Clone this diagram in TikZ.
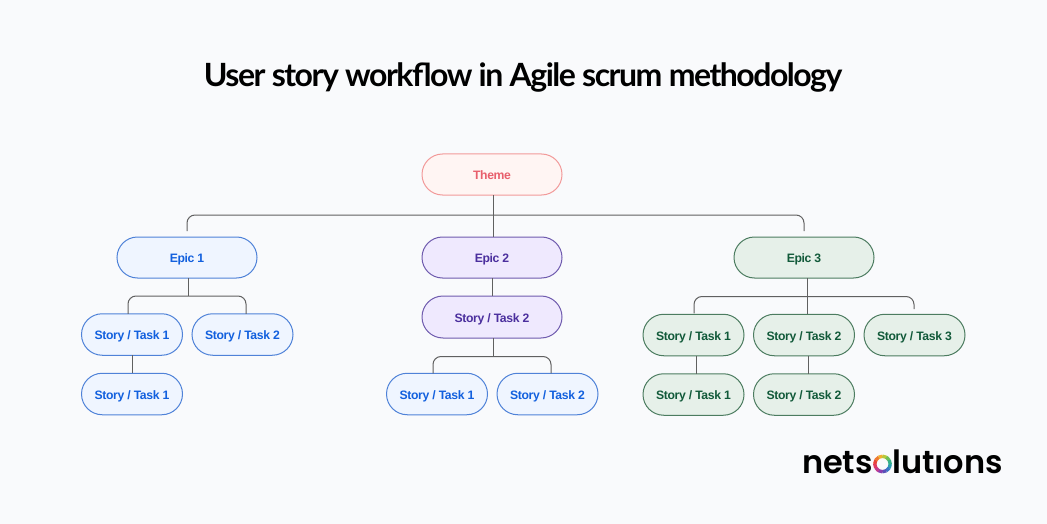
\documentclass[tikz,border=0pt]{standalone}
\usepackage{fontspec}
\usetikzlibrary{shapes.misc,calc}
\setmainfont{Liberation Sans}
\newfontfamily\pillfont[LetterSpace=-3]{Liberation Sans}
\newfontfamily\titlefont[LetterSpace=-4.7]{Lato}
\newfontfamily\logofont{Poppins SemiBold}
\definecolor{bgc}{HTML}{F9FAFC}
\definecolor{linec}{HTML}{606060}
\definecolor{redf}{HTML}{FFF5F3}\definecolor{reds}{HTML}{F29A9A}\definecolor{redt}{HTML}{E85F6C}
\definecolor{bluef}{HTML}{EFF5FF}\definecolor{blues}{HTML}{4F82D8}\definecolor{bluet}{HTML}{1260DE}
\definecolor{purf}{HTML}{EFE9FE}\definecolor{purs}{HTML}{6F5BAE}\definecolor{purt}{HTML}{4B2F9E}
\definecolor{grnf}{HTML}{E6F0E9}\definecolor{grns}{HTML}{4C7C60}\definecolor{grnt}{HTML}{125A3A}
\tikzset{
  x=1pt,y=-1pt,
  pill/.style={rounded rectangle,inner sep=0pt,outer sep=0pt,line width=1pt,text height=10pt,text depth=0pt,font=\pillfont\bfseries\fontsize{12.2}{14}\selectfont},
  wide/.style={pill,minimum width=140pt,minimum height=41pt},
  small/.style={pill,minimum width=101pt,minimum height=41.5pt},
  redp/.style={fill=redf,draw=reds,text=redt},
  bluep/.style={fill=bluef,draw=blues,text=bluet},
  purp/.style={fill=purf,draw=purs,text=purt},
  grnp/.style={fill=grnf,draw=grns,text=grnt},
  link/.style={draw=linec,line width=1pt,rounded corners=8pt},
  stem/.style={draw=linec,line width=1pt},
}
\begin{document}
\begin{tikzpicture}
\path[use as bounding box,fill=bgc] (0,0) rectangle (1047,524);
\node[anchor=base,inner sep=0pt,font=\titlefont\bfseries\fontsize{32}{36}\selectfont,text=black] (title) at (523,87) {User story workflow in Agile scrum methodology};

\node[wide,redp] (theme) at (492,174.5) {Theme};
\node[wide,bluep] (e1) at (187,257.5) {Epic 1};
\node[wide,purp] (e2) at (492,257.5) {Epic 2};
\node[wide,grnp] (e3) at (804,257.5) {Epic 3};

\node[small,bluep] (a1) at (132,334.5) {Story / Task 1};
\node[small,bluep] (a2) at (242.5,334.5) {Story / Task 2};
\node[small,bluep] (a3) at (132,394) {Story / Task 1};

\node[wide,purp,minimum height=42pt] (b0) at (492,317) {Story / Task 2};
\node[small,bluep] (b1) at (437,394) {Story / Task 1};
\node[small,bluep] (b2) at (547.5,394) {Story / Task 2};

\node[small,grnp] (c1) at (693.5,335) {Story / Task 1};
\node[small,grnp] (c2) at (804,335) {Story / Task 2};
\node[small,grnp] (c3) at (914.5,335) {Story / Task 3};
\node[small,grnp] (c4) at (693.5,394.5) {Story / Task 1};
\node[small,grnp] (c5) at (804,394.5) {Story / Task 2};

% theme to epics
\coordinate (e1end) at (187,231);
\coordinate (e3end) at (804,231);
\draw[stem] ($(theme.south)+(1,0)$) -- ($(e2.north)+(1,0)$);
\draw[link] (e1end) -- (187,215) -- (804,215) -- (e3end);

% epic 1
\draw[stem] ($(e1.south)+(1,0)$) -- (188,296);
\draw[link] ($(a1.north)+(-4,0)$) -- (128,296) -- (246,296) -- ($(a2.north)+(3.5,0)$);
\draw[stem] ($(a1.south)+(0.5,0)$) -- ($(a3.north)+(0.5,0)$);

% epic 2
\draw[stem] ($(e2.south)+(0.5,0)$) -- ($(b0.north)+(0.5,0)$);
\draw[stem] ($(b0.south)+(1.5,0)$) -- (493.5,356.5);
\draw[link] ($(b1.north)+(-4,0)$) -- (433,356.5) -- (551,356.5) -- ($(b2.north)+(3.5,0)$);

% epic 3
\coordinate (c3end) at (914,309);
\draw[stem] ($(e3.south)+(3,0)$) -- ($(c2.north)+(3,0)$);
\draw[link] ($(c1.north)+(0.5,-1)$) -- (694,296.5) -- (914,296.5) -- (c3end);
\draw[stem] ($(c1.south)+(2.5,0)$) -- ($(c4.north)+(2.5,0)$);
\draw[stem] ($(c2.south)+(4,0)$) -- ($(c5.north)+(4,0)$);

% logo
\node[anchor=base east,inner sep=0pt,font=\logofont\fontsize{32}{36}\selectfont] (lg1) at (873,473.5) {nets};
\node[anchor=base west,inner sep=0pt,font=\logofont\fontsize{32}{36}\selectfont] (lg2) at (892,473.5) {lutıons};
\foreach \a/\c in {0/2A9FB0,30/3A78C8,60/5A50B8,90/8A3FB0,120/C03A90,150/E03A60,180/E8443A,210/EE7A30,240/F0B030,270/B8C83A,300/6CBF5A,330/35B08A}{
  \definecolor{ringc}{HTML}{\c}
  \draw[line width=3.4pt,draw=ringc] ([shift={(882.5,464)}]\a:7.8) arc[start angle=\a,delta angle=32,radius=7.8];
}
\end{tikzpicture}
\end{document}
